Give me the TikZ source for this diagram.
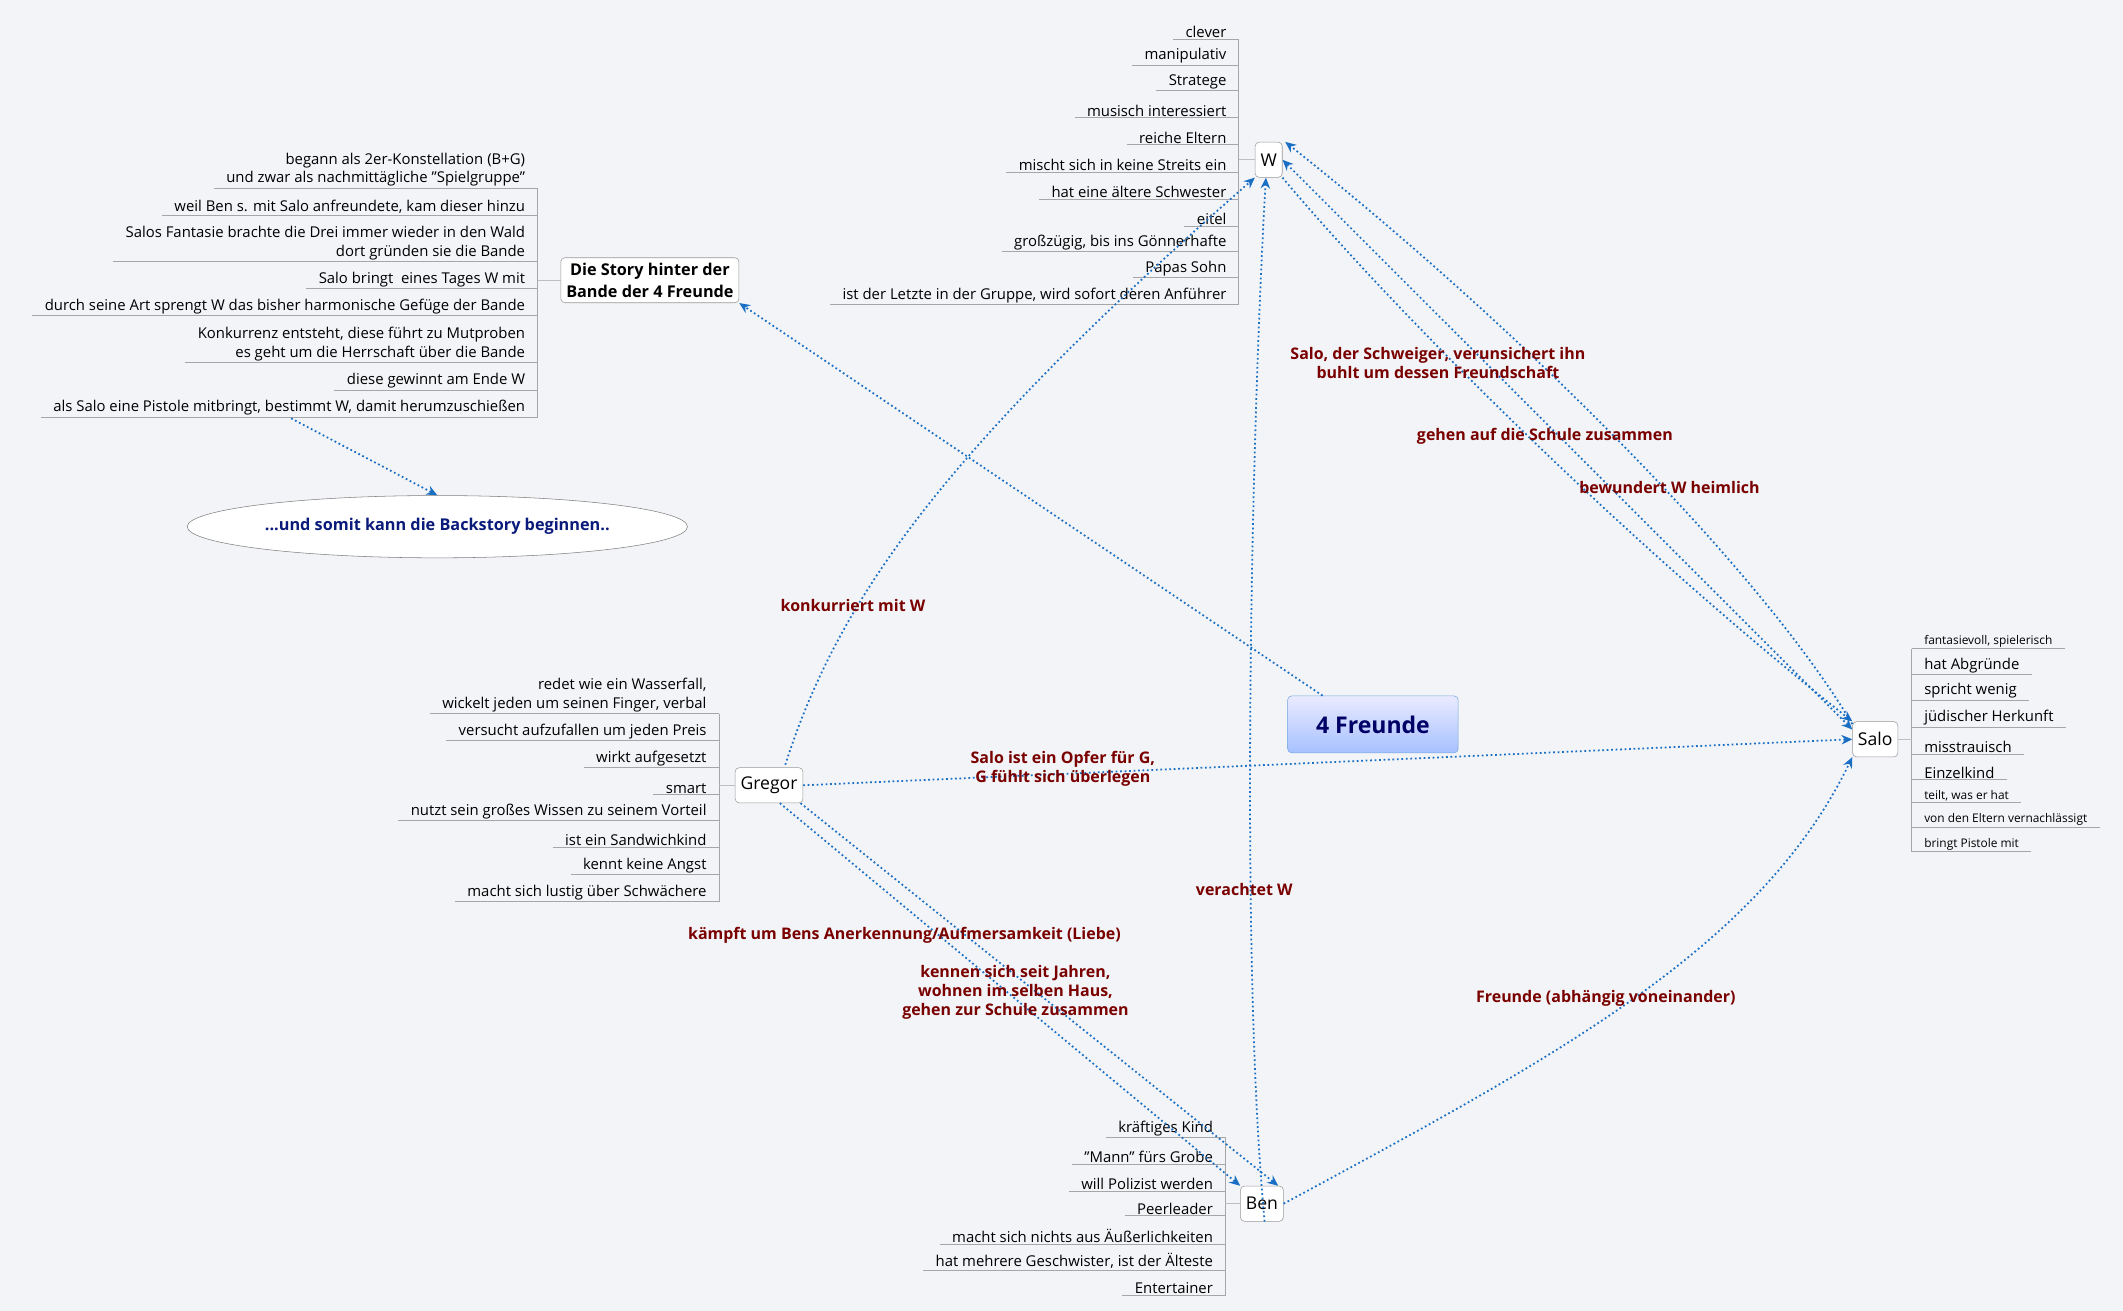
\documentclass[tikz,border=0pt]{standalone}
\usepackage{fontspec}
\setmainfont{Open Sans}
\usetikzlibrary{arrows.meta,shapes.geometric}
\definecolor{bg}{HTML}{F2F4F7}
\definecolor{lnk}{HTML}{1A6FC4}
\definecolor{lab}{HTML}{7A0000}
\definecolor{navy}{HTML}{0A1A7A}
\tikzset{
 item/.style={font=\fontsize{11}{14}\selectfont,inner xsep=9pt,inner ysep=1pt,align=right,
   append after command={(\tikzlastnode.south west) edge[draw=gray!70,line width=0.6pt] (\tikzlastnode.south east)}},
 litem/.style={item,align=left},
 sitem/.style={litem,font=\fontsize{8.8}{11}\selectfont},
 topic/.style={draw=gray!80,rounded corners=3pt,fill=white,font=\fontsize{13}{15}\selectfont,inner sep=4pt,minimum height=26pt},
 rel/.style={draw=lnk,line width=1.3pt,dotted,-{Stealth[length=8pt,width=7pt]}},
 lbl/.style={text=lab,font=\bfseries\fontsize{11.8}{14}\selectfont,align=center,inner sep=1pt},
 tree/.style={draw=gray!70,line width=0.6pt},
}
\begin{document}
\begin{tikzpicture}[x=1pt,y=-1pt]
\useasboundingbox[fill=bg] (0,0) rectangle (1568,968);
% central
\node[draw=lnk!60,rounded corners=3pt,top color=blue!8,bottom color=cyan!30!blue!35,minimum width=126pt,minimum height=42pt,font=\bfseries\fontsize{17}{20}\selectfont,text=blue!40!black] (c) at (1014,535) {4 Freunde};
% topics
\node[topic] (W) at (937,118) {W};
\node[topic,font=\bfseries\fontsize{12}{16}\selectfont,align=center] (S) at (480,207) {Die Story hinter der\\Bande der 4 Freunde};
\node[topic] (G) at (568,580) {Gregor};
\node[topic] (B) at (932,889) {Ben};
\node[topic] (Sa) at (1385,546) {Salo};
\node[draw=gray,fill=white,ellipse,minimum width=300pt,minimum height=46pt,font=\bfseries\fontsize{12}{14}\selectfont,text=navy] (E) at (323,389) {...und somit kann die Backstory beginnen..};
% W list
\foreach \t/\y [count=\i] in {clever/29,manipulativ/48,Stratege/67,musisch interessiert/87,reiche Eltern/107,mischt sich in keine Streits ein/127,hat eine ältere Schwester/147,eitel/167,{großzügig, bis ins Gönnerhafte}/186,Papas Sohn/205,{ist der Letzte in der Gruppe, wird sofort deren Anführer}/225}
  \node[item,anchor=south east] (w\i) at (915,\y) {\t};
\draw[tree] (w1.south east) -- (w11.south east);
\draw[tree,gray!50] (915,118) -- (W.west);
% Story list
\foreach \t/\y [count=\i] in {{begann als 2er-Konstellation (B+G)\\und zwar als nachmittägliche "Spielgruppe"}/139,{weil Ben s. mit Salo anfreundete, kam dieser hinzu}/159,{Salos Fantasie brachte die Drei immer wieder in den Wald\\dort gründen sie die Bande}/193,{Salo bringt\ \ eines Tages W mit}/213,{durch seine Art sprengt W das bisher harmonische Gefüge der Bande}/233,{Konkurrenz entsteht, diese führt zu Mutproben\\es geht um die Herrschaft über die Bande}/268,{diese gewinnt am Ende W}/288,{als Salo eine Pistole mitbringt, bestimmt W, damit herumzuschießen}/308}
  \node[item,anchor=south east] (s\i) at (397,\y) {\t};
\draw[tree] (s1.south east) -- (s8.south east);
\draw[tree,gray!50] (397,207) -- (S.west);
% Gregor list
\foreach \t/\y [count=\i] in {{redet wie ein Wasserfall,\\wickelt jeden um seinen Finger, verbal}/527,{versucht aufzufallen um jeden Preis}/547,wirkt aufgesetzt/567,smart/587,{nutzt sein großes Wissen zu seinem Vorteil}/606,ist ein Sandwichkind/626,kennt keine Angst/646,macht sich lustig über Schwächere/666}
  \node[item,anchor=south east] (g\i) at (531,\y) {\t};
\draw[tree] (g1.south east) -- (g8.south east);
\draw[tree,gray!50] (531,580) -- (G.west);
% Ben list
\foreach \t/\y [count=\i] in {kräftiges Kind/840,"Mann" fürs Grobe/860,will Polizist werden/880,Peerleader/898,macht sich nichts aus Äußerlichkeiten/919,{hat mehrere Geschwister, ist der Älteste}/938,Entertainer/957}
  \node[item,anchor=south east] (b\i) at (905,\y) {\t};
\draw[tree] (b1.south east) -- (b7.south east);
\draw[tree,gray!50] (905,889) -- (B.west);
% Salo list
\foreach \t/\y/\s [count=\i] in {{fantasievoll, spielerisch}/479/sitem,hat Abgründe/498/litem,spricht wenig/517/litem,jüdischer Herkunft/537/litem,misstrauisch/557/litem,Einzelkind/576/litem,{teilt, was er hat}/593/sitem,von den Eltern vernachlässigt/611/sitem,bringt Pistole mit/629/sitem}
  \node[\s,anchor=south west] (a\i) at (1412,\y) {\t};
\draw[tree] (a1.south west) -- (a9.south west);
\draw[tree,gray!50] (1412,546) -- (Sa.east);
% relations
\coordinate (sl) at (215,309);
\draw[rel] (c.north west) ++(26,0) -- (S.south east);
\draw[rel] (sl) -- (E.north);
\draw[rel] (G.north) ++(12,-2) .. controls (620,440) and (700,330) .. (W.south west);
\node[lbl] (l1) at (630,447) {konkurriert mit W};
\draw[rel] (G.east) -- (Sa.west);
\node[lbl] (l2) at (785,568) {Salo ist ein Opfer für G,\\G fühlt sich überlegen};
\draw[rel] (G.south) ++(8,0) -- (B.north west);
\draw[rel] (G.south east) ++(-2,0) -- ([xshift=-4pt]B.north east);
\node[lbl] (l3) at (668,691) {kämpft um Bens Anerkennung/Aufmersamkeit (Liebe)};
\node[lbl] (l4) at (750,733) {kennen sich seit Jahren,\\wohnen im selben Haus,\\gehen zur Schule zusammen};
\draw[rel] ([xshift=2pt]B.south) .. controls (915,700) and (925,300) .. ([xshift=-2pt]W.south);
\node[lbl] (l5) at (919,657) {verachtet W};
\draw[rel] (B.east) .. controls (1150,780) and (1300,700) .. (Sa.south west);
\node[lbl] (l6) at (1186,737) {Freunde (abhängig voneinander)};
\draw[rel,{Stealth[length=8pt,width=7pt]}-{Stealth[length=8pt,width=7pt]}] (W.east) -- ([yshift=-6pt]Sa.north west);
\draw[rel] (W.south east) .. controls (1030,230) and (1200,400) .. (Sa.north west);
\draw[rel] ([yshift=-2pt]Sa.north west) .. controls (1300,420) and (1120,240) .. ([xshift=2pt]W.north east);
\node[lbl] (l7) at (1062,268) {Salo, der Schweiger, verunsichert ihn\\buhlt um dessen Freundschaft};
\node[lbl] (l8) at (1141,322) {gehen auf die Schule zusammen};
\node[lbl] (l9) at (1233,360) {bewundert W heimlich};
\end{tikzpicture}
\end{document}
